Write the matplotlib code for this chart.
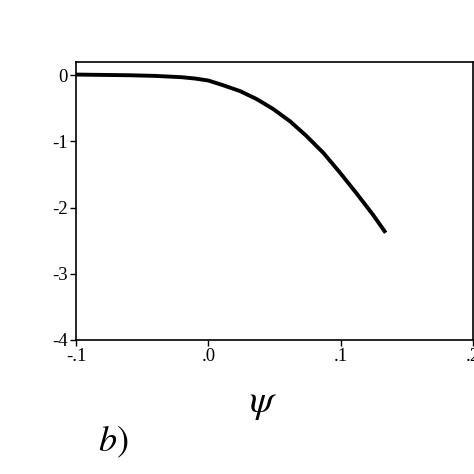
import matplotlib
matplotlib.use("Agg")
import matplotlib.pyplot as plt

psi = [-0.100, -0.080, -0.060, -0.040, -0.020, -0.010, 0.000, 0.011, 0.024,
       0.0365, 0.049, 0.062, 0.074, 0.087, 0.099, 0.112, 0.1245, 0.134]
values = [0.01, 0.005, 0.0, -0.01, -0.03, -0.05, -0.08, -0.15, -0.24,
          -0.36, -0.51, -0.70, -0.915, -1.175, -1.46, -1.785, -2.11, -2.38]

xticks = [-0.1, 0.0, 0.1, 0.2]
xticklabels = ["-.1", ".0", ".1", ".2"]
yticks = [0, -1, -2, -3, -4]
yticklabels = ["0", "-1", "-2", "-3", "-4"]

plt.rcParams['font.family'] = ['Liberation Serif', 'DejaVu Serif']
plt.rcParams['mathtext.fontset'] = 'stix'

fig = plt.figure(figsize=(4.74, 4.74), dpi=100)
ax = fig.add_axes([76/474, (474-340)/474, (473-76)/474, (340-62)/474])
ax.plot(psi, values, color='black', lw=2.8, solid_capstyle='butt',
        solid_joinstyle='round')
ax.set_xlim(-0.1, 0.2)
ax.set_ylim(-4, 0.2)
ax.set_xticks(xticks)
ax.set_xticklabels(xticklabels)
ax.set_yticks(yticks)
ax.set_yticklabels(yticklabels)
ax.tick_params(direction='out', length=4, width=1, labelsize=13.5, pad=2)
for s in ax.spines.values():
    s.set_linewidth(1.2)
fig.text(263/474, 1 - 403/474, r'$\psi$', fontsize=28, ha='center', va='center')
fig.text(113/474, 1 - 442/474, r'$b)$', fontsize=26, ha='center', va='center')
fig.savefig('out.png', dpi=100)
